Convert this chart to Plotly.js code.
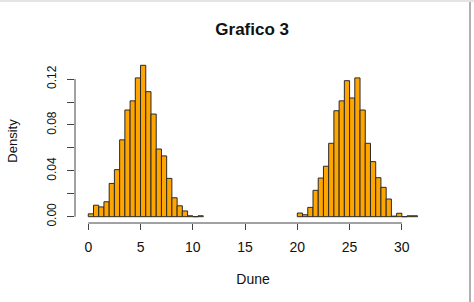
<!DOCTYPE html>
<html>
<head>
<meta charset="utf-8">
<script src="https://cdn.plot.ly/plotly-3.0.1.min.js"></script>
<style>
html,body{margin:0;padding:0;background:#fff;}
#chart{width:474px;height:302px;}
</style>
</head>
<body>
<div id="chart"></div>
<script>
// Histogram breaks (bin left edges, width 0.5) and densities
const binWidth = 0.5;
const binStarts = [
  0,0.5,1,1.5,2,2.5,3,3.5,4,4.5,5,5.5,6,6.5,7,7.5,8,8.5,9,9.5,10,10.5,
  20,20.5,21,21.5,22,22.5,23,23.5,24,24.5,25,25.5,26,26.5,27,27.5,28,28.5,29,29.5,30,30.5,31
];
const density = [
  0.0025,0.010,0.0085,0.013,0.029,0.041,0.067,0.093,0.101,0.121,0.132,0.109,0.0895,0.059,0.053,0.0334,0.0165,0.0095,0.005,0.0008,0,0.0008,
  0.0032,0.0017,0.0081,0.023,0.0337,0.044,0.064,0.0924,0.101,0.1186,0.1035,0.121,0.093,0.064,0.048,0.034,0.0256,0.0154,0.0005,0.003,0,0.0008,0.0008
];
const xTicks = [0,5,10,15,20,25,30];
const yTicks = [0,0.02,0.04,0.06,0.08,0.10,0.12];
const yTickText = ['0.00','','0.04','','0.08','','0.12'];

const centers = binStarts.map(b => b + binWidth/2);

const trace = {
  type: 'bar',
  x: centers,
  y: density,
  width: binWidth,
  marker: {color: '#FFA500', line: {color: '#2a2a2a', width: 1}},
  hoverinfo: 'x+y'
};

const layout = {
  width: 474, height: 302,
  margin: {l: 75, r: 43, t: 59, b: 79},
  paper_bgcolor: '#fff', plot_bgcolor: '#fff',
  font: {family: 'Liberation Sans, Arial, sans-serif', color: '#111'},
  title: {text: '<b>Grafico 3</b>', font: {size: 17, color: '#111'}, x: 0.532, xanchor: 'center', y: 0.905, yanchor: 'middle', yref: 'container'},
  showlegend: false,
  bargap: 0,
  xaxis: {
    range: [-1.27, 32.79], showgrid: false, zeroline: false, showline: false,
    tickvals: xTicks, ticktext: xTicks.map(String),
    ticks: 'outside', ticklen: 6, tickcolor: '#444', tickwidth: 1,
    tickfont: {size: 14, color: '#111'}, ticklabelstandoff: 5,
    title: {text: 'Dune', font: {size: 14, color: '#111'}, standoff: 20}
  },
  yaxis: {
    range: [-0.0055, 0.1375], showgrid: false, zeroline: false, showline: false,
    tickvals: yTicks, ticktext: yTickText, tickangle: -90,
    ticks: 'outside', ticklen: 7, tickcolor: '#444', tickwidth: 1,
    tickfont: {size: 12, color: '#111'}, ticklabelstandoff: 6,
    title: {text: 'Density', font: {size: 13, color: '#111'}, standoff: 24}
  },
  shapes: [
    {type: 'line', xref: 'x', yref: 'paper', x0: 0, x1: 30, y0: 0, y1: 0, line: {color: '#444', width: 1}},
    {type: 'line', xref: 'paper', yref: 'y', x0: 0, x1: 0, y0: 0, y1: 0.12, line: {color: '#444', width: 1}}
  ]
};

Plotly.newPlot('chart', [trace], layout, {displayModeBar: false, staticPlot: true});
</script>
<div style="position:absolute;left:469px;top:0;width:2px;height:302px;background:#b0b0b0;"></div>
<div style="position:absolute;left:0;top:0;width:474px;height:2px;background:#e4e4e4;"></div>
</body>
</html>
